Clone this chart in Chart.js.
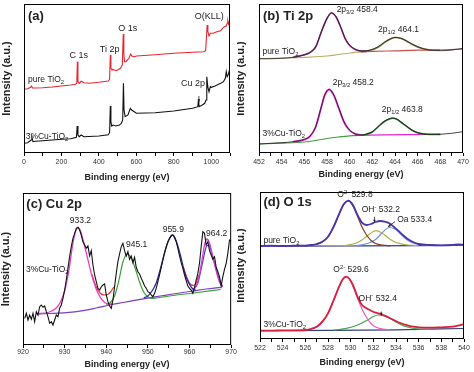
<!DOCTYPE html>
<html>
<head>
<meta charset="utf-8">
<script src="https://cdn.jsdelivr.net/npm/chart.js@4.4.0/dist/chart.umd.min.js"></script>
<style>
  body { margin: 0; background: #fff; }
  #wrap { position: relative; width: 474px; height: 372px; }
  canvas { position: absolute; }
</style>
</head>
<body>
<div id="wrap">
  <canvas id="pa" width="237" height="186" style="left:0;top:0"></canvas>
  <canvas id="pb" width="237" height="186" style="left:237px;top:0"></canvas>
  <canvas id="pc" width="237" height="186" style="left:0;top:186px"></canvas>
  <canvas id="pd" width="237" height="186" style="left:237px;top:186px"></canvas>
</div>
<script>
var FONT = 'Arial, "Liberation Sans", sans-serif';

// (a) survey spectra  [binding energy, intensity a.u.]
var surveyPure = [[0,63.7],[20,64.3],[35,65.7],[40,67],[45,65],[60,65],[100,65.3],[150,66],[200,67],[250,68],[275,68.7],[282,69.7],[285,91.3],[288,71.3],[295,69.7],[305,71.7],[320,70.3],[350,69.7],[400,70.7],[450,72],[457,73.7],[461,98],[464,84.7],[470,83],[475,83.7],[490,82.3],[500,83],[515,84.7],[525,88],[530,119],[533,99.7],[537,91.3],[545,91.3],[560,94.7],[570,99],[575,97],[590,96.3],[600,97],[700,98.3],[800,99.7],[900,100.7],[960,101.3],[970,102.3],[975,118],[978,128],[982,121.3],[988,117],[995,119.7],[1010,119.7],[1030,121.3],[1050,122.3],[1060,124.7],[1070,126.3],[1080,127],[1085,129.7],[1088,132.3],[1092,129],[1100,133.7]];
var surveyCu = [[0,9.7],[20,10.3],[38,13],[42,15.7],[48,11.3],[60,11.7],[100,12.3],[150,13],[200,13.7],[250,14.3],[280,15.7],[284,27],[288,18],[295,16.3],[305,18],[320,16.3],[400,17],[450,18.3],[457,20.3],[461,47],[464,31.3],[468,27],[475,28],[490,27],[510,28],[520,29.7],[527,33],[531,69.7],[534,43],[540,36.3],[555,38],[568,44.7],[575,43],[600,39.7],[700,40.3],[800,42],[900,44.7],[928,46.3],[932,54],[935,46.3],[950,47.7],[965,49.7],[972,53],[976,76.3],[982,65.7],[988,61.3],[995,66.3],[1000,65.7],[1020,67],[1050,69.7],[1065,71.3],[1075,74.7],[1080,81.3],[1085,76.3],[1090,78],[1100,84.7]];

// (b) Ti 2p
var tiPureData = [[452,94.3],[453,94.3],[454,94.7],[455,95.7],[456,98],[456.5,100.3],[457,106.3],[457.5,121.3],[458,134.7],[458.4,140.3],[458.8,136.3],[459.2,126.3],[459.6,114.7],[460,108],[460.5,103.7],[461,102.3],[461.5,102.3],[462,103.7],[462.5,106.3],[463,110.3],[463.5,113.7],[464,115.7],[464.5,114.7],[465,112.3],[465.5,109],[466,106.3],[466.5,104.3],[467,103],[468,102.3],[469,103],[470,104.7]];
var tiPureBgL = [[452,94.3],[454,94.8],[456,95.7],[458,97],[459,98.5],[460,100],[461,101.2]];
var tiPureBgR = [[461,101.2],[462,101.6],[464,102.2],[466,102.8],[468,103],[470,104]];
var tiPure32 = [[455,95.8],[456,98.2],[456.5,100.6],[457,106],[457.5,121],[458,134.5],[458.4,140],[458.8,136],[459.2,126],[459.6,114.3],[460,107.5],[460.5,103.5],[461,101.8],[461.5,101.5]];
var tiPure12 = [[461,101.3],[462,103.2],[462.5,105.8],[463,109.8],[463.5,113.5],[464,115.5],[464.5,114.8],[465,112],[465.5,108.7],[466,106],[466.5,104.2],[467,103.3],[468,103]];
var tiCuData = [[452,9],[453,9.7],[454,10.3],[455,11.3],[456,13.7],[456.5,17],[457,26.3],[457.5,46.3],[457.8,58],[458.2,63.7],[458.6,58],[459,46.3],[459.5,31.3],[460,23],[460.5,19],[461,18],[461.5,19],[462,21.3],[462.5,26.3],[463,31.3],[463.5,34.3],[463.8,35],[464.2,33.7],[464.5,31.3],[465,27],[465.5,23],[466,20.3],[466.5,19],[467,18.3],[468,18.7],[469,19.7],[470,21.3]];
var tiCuBgL = [[452,9],[454,9.8],[456,11],[457,12.5],[458,14.5],[459,16],[460,17.2],[461,17.7]];
var tiCuBgR = [[461,17.7],[463,18.1],[465,18.4],[468,18.6]];
var tiCu32 = [[455,11.2],[456,13.3],[456.5,16.6],[457,26],[457.5,46],[457.8,57.8],[458.2,63.5],[458.6,57.8],[459,46],[459.5,31],[460,22.5],[460.5,19.2],[461,18]];
var tiCu12 = [[460.5,17.6],[461,17.9],[461.5,18.8],[462,21],[462.5,26],[463,31],[463.5,34.1],[463.8,34.8],[464.2,33.5],[464.5,31],[465,26.8],[465.5,22.8],[466,20.3],[467,18.7],[468,18.6]];

// (c) Cu 2p
var cuData = [[920.4,26.7],[920.8,31.7],[921.2,25],[921.6,30],[922,25.7],[922.4,31.7],[922.8,23.3],[923.2,33.3],[923.6,30],[924,38.3],[924.4,40],[924.8,37.7],[925.2,39],[925.6,33.3],[926,28.3],[926.4,21.7],[926.8,23.3],[927.2,20],[927.6,25],[928,30],[928.4,28.3],[928.8,36.7],[929.2,40],[929.6,46.7],[930,55],[930.4,65],[930.8,76.7],[931.2,88.3],[931.6,98.3],[932,106.7],[932.4,111.7],[932.8,116.7],[933.2,117.7],[933.6,115],[934,110],[934.4,103.3],[934.8,100],[935.2,96.7],[935.6,99],[936,89],[936.4,94.3],[936.8,80],[937.2,70],[937.6,63.3],[938,56.7],[938.4,55],[938.8,58.3],[939.2,60],[939.6,61],[940,50],[940.4,43.3],[940.8,39],[941.2,36.7],[941.6,45],[942,58.3],[942.4,71.7],[942.8,83.3],[943.2,91],[943.6,98.3],[944,101.7],[944.4,94.3],[944.8,89],[945.2,93.3],[945.6,85.7],[946,89],[946.4,82.3],[946.8,87.7],[947.2,77.7],[947.6,73.3],[948,71],[948.4,66.7],[948.8,63.3],[949.2,59],[949.6,56.7],[950,53.3],[950.4,52.3],[950.8,50],[951.2,48.3],[951.6,51.7],[952,56.7],[952.4,63.3],[952.8,70],[953.2,77.7],[953.6,85],[954,92.3],[954.4,98.3],[954.8,103.3],[955.2,106.3],[955.6,109],[956,110],[956.4,107.7],[956.8,103.3],[957.2,96.7],[957.6,89],[958,82.3],[958.4,76.7],[958.8,70],[959.2,64.3],[959.6,59],[960,56.7],[960.4,55],[960.8,51.7],[961.2,57.7],[961.6,65],[962,71.7],[962.4,81.7],[962.8,98.3],[963.2,113.3],[963.6,111.7],[964,100],[964.4,103.3],[964.8,94.3],[965.2,90],[965.6,85.7],[966,88.3],[966.4,77.7],[966.8,73.3],[967.2,68.3],[967.6,59],[968,68.3],[968.4,75.7],[968.8,81.7],[969.2,91.7],[969.6,105],[970,104.3]];
var cuBg = [[923.2,31],[926,31.5],[930.4,32.3],[934.4,34.3],[937.6,37],[940.8,40],[944,42.5],[946.4,44.3],[949.6,46.7],[953,49],[956,51],[960.8,54],[964,56],[967.6,57.7]];
var cu933 = [[923.2,31.3],[926,32.5],[928,37],[929,43],[930,54],[931,74],[932,102],[932.6,113],[933.2,117.5],[933.8,114],[934.5,104],[935.5,87],[936.5,70],[937.5,57],[938.5,48],[939.5,43],[940.5,41],[941.5,41]];
var cuEnvA = [[936.5,71],[937.5,59],[938.5,52],[939.5,50],[940.3,50.5],[941,53],[941.8,58]];
var cu945 = [[940,40.5],[941,42.5],[942,49],[943,64],[944,83],[945.1,91],[946,87],[947,76],[948,63],[949,53],[950,48],[951,46.5],[952,47],[956,49.5],[961,52],[967.5,55.5]];
var cu956 = [[949,47],[950,49],[951,54],[952,62],[953,76],[954,92],[955,105],[955.9,110],[956.8,104],[957.8,90],[958.8,73],[959.8,62],[960.8,56],[961.5,55]];
var cuEnvB = [[958.5,78],[959.5,66],[960.3,60.5],[961,59.5],[961.6,62],[962.2,70]];
var cu964a = [[961,55.5],[962,63],[963,85],[963.6,100],[964.2,106],[964.8,102],[965.5,90],[966.3,76],[967,65],[967.8,58]];
var cu964b = [[960.8,55],[962,62],[963,80],[964,98],[964.6,100],[965.5,89],[966.5,74],[967.5,62],[968,58.5]];

// (d) O 1s
var oPureData = [[522,93],[523,93.3],[524,93],[525,93.3],[526,93.3],[526.5,94],[527,95],[527.5,97.3],[528,102.3],[528.5,112.3],[529,125.7],[529.4,135],[529.8,138.3],[530.2,134],[530.6,124],[531,116.3],[531.4,114],[531.8,115],[532.2,117],[532.6,118],[533,117.3],[533.4,115.7],[533.8,112.3],[534.2,108.3],[534.6,104],[535,100.3],[535.5,97],[536,95],[537,94],[538,93.7],[539,94],[539.5,94.7],[540,94.3]];
var oPureBase = [[522,92.8],[530,93],[536,93.3],[540,93.8]];
var oPureO2 = [[526,93.2],[527,94.5],[527.5,97],[528,102],[528.5,112],[529,125.3],[529.4,134.5],[529.8,138],[530.2,133],[530.6,123],[531,112],[531.4,104],[531.8,98.5],[532.2,95.5],[532.8,93.8],[533.5,93.2]];
var oPureOH = [[529.5,93.4],[530.5,96],[531,99],[531.5,103.5],[532,107.5],[532.2,108.3],[532.6,107],[533,104],[533.5,99.5],[534,96.5],[535,94],[536,93.4]];
var oPureOa = [[530.5,93.3],[531.5,95.5],[532.2,99.5],[532.8,106.5],[533.4,111.5],[533.9,110],[534.5,104],[535,99],[535.5,96],[536.5,94],[537.5,93.5]];
var oCuData = [[522,8.3],[523,8.3],[524,8.7],[525,8.7],[526,9],[526.5,10],[527,12.3],[527.5,17.3],[528,25.7],[528.5,39],[529,53],[529.3,59.7],[529.6,62.3],[529.9,60],[530.2,54],[530.6,42.3],[531,34],[531.4,30.7],[531.8,28.3],[532.2,26.3],[532.6,25],[533,23.3],[533.4,21.3],[533.8,19],[534.2,16.7],[534.6,15],[535,13.7],[535.5,12.3],[536,11.7],[537,11.3],[538,11.7],[539,12.3],[540,14.7]];
var oCuBase = [[522,8.3],[528,8.6],[534,9.2],[540,10.5]];
var oCuO2 = [[526,9],[527,12],[527.5,17],[528,25.5],[528.5,38.5],[529,52.5],[529.3,59.3],[529.6,62],[529.9,59.5],[530.2,53],[530.6,41],[531,30],[531.4,21.5],[531.8,15.5],[532.2,12],[532.8,10],[533.5,9.2]];
var oCuOH = [[528.5,8.8],[529.5,10.3],[530.5,13.5],[531.5,19],[532,22.5],[532.5,24],[533,23],[533.5,20.5],[534,17],[534.5,14],[535,12],[536,10],[537,9.5]];

// text labels: [x, y, text, align, size, bold]
var notesA = [[21.5,137,'(a)','l',13,true],[292,97,'C 1s','c',9],[457,103.7,'Ti 2p','c',9],[554,124.7,'O 1s','c',9],[989.5,136.3,'O(KLL)','c',9],[21.5,73.7,'pure TiO_{2}','l',8.5],[902,69,'Cu 2p','c',9],[9,16,'3%Cu-TiO_{2}','l',8.5]];
var notesB = [[452.35,137,'(b) Ti 2p','l',13,true],[458.85,143,'2p_{3/2} 458.4','l',8.5],[462.5,123.7,'2p_{1/2} 464.1','l',8.5],[452.3,101,'pure TiO_{2}','l',8.5],[458.5,70,'2p_{3/2} 458.2','l',8.5],[462.83,43,'2p_{1/2} 463.8','l',8.5],[452.3,19,'3%Cu-TiO_{2}','l',8.5]];
var notesC = [[920.8,141,'(c) Cu 2p','l',13,true],[933.8,124.3,'933.2','c',8.5],[947.3,100,'945.1','c',8.5],[956.1,115,'955.9','c',8.5],[966.5,111.7,'964.2','c',8.5],[920.7,75.7,'3%Cu-TiO_{2}','l',8.5]];
var notesD = [[522.3,136.3,'(d) O 1s','l',13,true],[528.82,144,'O^{2-} 529.8','l',8.5],[530.97,129,'OH^{-} 532.2','l',8.5],[534.1,119.7,'Oa 533.4','l',8.5],[522.3,98,'pure TiO_{2}','l',8.5],[528.47,69,'O^{2-} 529.6','l',8.5],[530.7,40.7,'OH^{-} 532.4','l',8.5],[522.3,14,'3%Cu-TiO_{2}','l',8.5]];
// arrows: [x1, y1, x2, y2]
var arrowsA = [[934,57,934,51]];
var arrowsD = [[532.1,122.3,532.1,116.5],[533.9,117.3,533.3,112.3],[532.7,27.5,532.7,23.5]];

function drawRich(ctx, n, px, py) {
  var text = n[2], align = n[3], size = n[4], bold = n[5];
  var parts = [];
  text.replace(/([_^])\{([^}]*)\}|([^_^]+)/g, function (m, k, s, t) {
    parts.push(t ? { t: t, k: 0 } : { t: s, k: k === '_' ? 1 : -1 });
  });
  var f = function (k) { return (bold ? 'bold ' : '') + (k ? size * 0.68 : size) + 'px ' + FONT; };
  var w = 0;
  parts.forEach(function (p) { ctx.font = f(p.k); p.w = ctx.measureText(p.t).width; w += p.w; });
  var cx = align === 'c' ? px - w / 2 : px;
  ctx.fillStyle = '#222';
  ctx.textBaseline = 'middle';
  ctx.textAlign = 'left';
  parts.forEach(function (p) {
    ctx.font = f(p.k);
    ctx.fillText(p.t, cx, py + p.k * size * 0.32);
    cx += p.w;
  });
}

var notes = {
  id: 'notes',
  afterDatasetsDraw: function (chart, args, opts) {
    var ctx = chart.ctx, a = chart.chartArea, x = chart.scales.x, y = chart.scales.y;
    ctx.save();
    ctx.strokeStyle = '#000';
    ctx.lineWidth = 1;
    ctx.strokeRect(a.left + 0.5, a.top + 0.5, a.right - a.left - 1, a.bottom - a.top - 1);
    (opts.arrows || []).forEach(function (r) {
      var x1 = x.getPixelForValue(r[0]), y1 = y.getPixelForValue(r[1]);
      var x2 = x.getPixelForValue(r[2]), y2 = y.getPixelForValue(r[3]);
      var ang = Math.atan2(y2 - y1, x2 - x1);
      ctx.strokeStyle = '#222'; ctx.fillStyle = '#222'; ctx.lineWidth = 0.8;
      ctx.beginPath(); ctx.moveTo(x1, y1); ctx.lineTo(x2, y2); ctx.stroke();
      ctx.beginPath();
      ctx.moveTo(x2, y2);
      ctx.lineTo(x2 - 3 * Math.cos(ang - 0.45), y2 - 3 * Math.sin(ang - 0.45));
      ctx.lineTo(x2 - 3 * Math.cos(ang + 0.45), y2 - 3 * Math.sin(ang + 0.45));
      ctx.closePath(); ctx.fill();
    });
    (opts.items || []).forEach(function (n) {
      drawRich(ctx, n, x.getPixelForValue(n[0]), y.getPixelForValue(n[1]));
    });
    ctx.restore();
  }
};

function panel(id, o) {
  return new Chart(document.getElementById(id), {
    type: 'line',
    data: {
      datasets: o.sets.map(function (s) {
        return {
          data: s[0].map(function (p) { return { x: p[0], y: p[1] }; }),
          borderColor: s[1], borderWidth: s[2],
          cubicInterpolationMode: s[3] ? 'monotone' : 'default',
          tension: 0, pointRadius: 0, fill: false
        };
      })
    },
    options: {
      responsive: false,
      animation: false,
      layout: { padding: { left: 0, top: o.pad[0], right: o.pad[1], bottom: 0 } },
      plugins: {
        legend: { display: false },
        tooltip: { enabled: false },
        notes: { items: o.notes, arrows: o.arrows || [] }
      },
      scales: {
        x: {
          type: 'linear', min: o.x[0], max: o.x[1],
          ticks: {
            stepSize: o.x[2] / 2, autoSkip: false, maxRotation: 0, padding: o.tp,
            color: '#333', font: { size: 7, family: FONT },
            callback: function (v) { return Math.abs(v % o.x[2]) < 1e-6 ? v : ''; }
          },
          grid: { drawOnChartArea: false, tickLength: 3, color: '#000' },
          border: { display: false },
          title: {
            display: true, text: 'Binding energy (eV)', color: '#222',
            font: { size: 9, weight: 'bold', family: FONT }, padding: { top: 0, bottom: o.tb }
          },
          afterFit: function (s) { s.height = o.xh; }
        },
        y: {
          type: 'linear', min: 0, max: o.ymax,
          ticks: { display: false },
          grid: { display: false },
          border: { display: false },
          title: {
            display: true, text: 'Intensity (a.u.)', color: '#222',
            font: { size: 11, weight: 'bold', family: FONT, lineHeight: 1 }, padding: { top: o.yt, bottom: 0 }
          },
          afterFit: function (s) { s.width = o.yw; }
        }
      }
    },
    plugins: [notes]
  });
}

panel('pa', {
  x: [0, 1100, 200], ymax: 149, pad: [4, 7], yw: 24, xh: 33, tp: 2, tb: 3, yt: 1.5,
  notes: notesA, arrows: arrowsA,
  sets: [[surveyPure, '#e6262e', 1.1], [surveyCu, '#111111', 1.1]]
});

panel('pb', {
  x: [452, 470, 2], ymax: 149, pad: [4, 11], yw: 22, xh: 33, tp: 2, tb: 6, yt: -1.5,
  notes: notesB,
  sets: [
    [tiPureData, '#2a1a2a', 0.8, 1], [tiPure32, '#8e2a86', 1.6, 1], [tiPure12, '#7d7d3a', 1.6, 1],
    [tiPureBgL, '#b6b06a', 1.2, 1], [tiPureBgR, '#c8504a', 1.2, 1],
    [tiCuData, '#1a1a1a', 0.8, 1], [tiCu32, '#e324d2', 1.8, 1], [tiCu12, '#2d7a2d', 1.6, 1],
    [tiCuBgL, '#3f9f3f', 1.2, 1], [tiCuBgR, '#e324d2', 1.2, 1]
  ]
});

panel('pc', {
  x: [920, 970, 10], ymax: 152, pad: [7, 5], yw: 23, xh: 27, tp: 0, tb: 2, yt: 0,
  notes: notesC,
  sets: [
    [cuData, '#111111', 1.1], [cu933, '#e93cc6', 1.3, 1], [cu964a, '#d23cd8', 1.3, 1],
    [cu956, '#2b2f9e', 1.3, 1], [cu964b, '#4b3fc9', 1.2, 1], [cu945, '#3c9e3c', 1.2, 1],
    [cuEnvA, '#e8332f', 1.2, 1], [cuEnvB, '#e8332f', 1.2, 1], [cuBg, '#7a3fc4', 1.2, 1]
  ]
});

panel('pd', {
  x: [522, 540, 2], ymax: 147, pad: [6, 10], yw: 23, xh: 33, tp: 2, tb: 4, yt: -1.5,
  notes: notesD, arrows: arrowsD,
  sets: [
    [oPureData, '#4b33b0', 1.8, 1], [oPureO2, '#8c3a1c', 1.2, 1], [oPureOH, '#b8aa4a', 1.2, 1],
    [oPureOa, '#6f93dc', 1.2, 1], [oPureBase, '#2f3c7a', 1.2, 1],
    [oCuData, '#d81f3a', 1.8, 1], [oCuO2, '#e85ac8', 1.2, 1], [oCuOH, '#47a447', 1.2, 1],
    [oCuBase, '#33427a', 1.2, 1]
  ]
});
</script>
</body>
</html>
